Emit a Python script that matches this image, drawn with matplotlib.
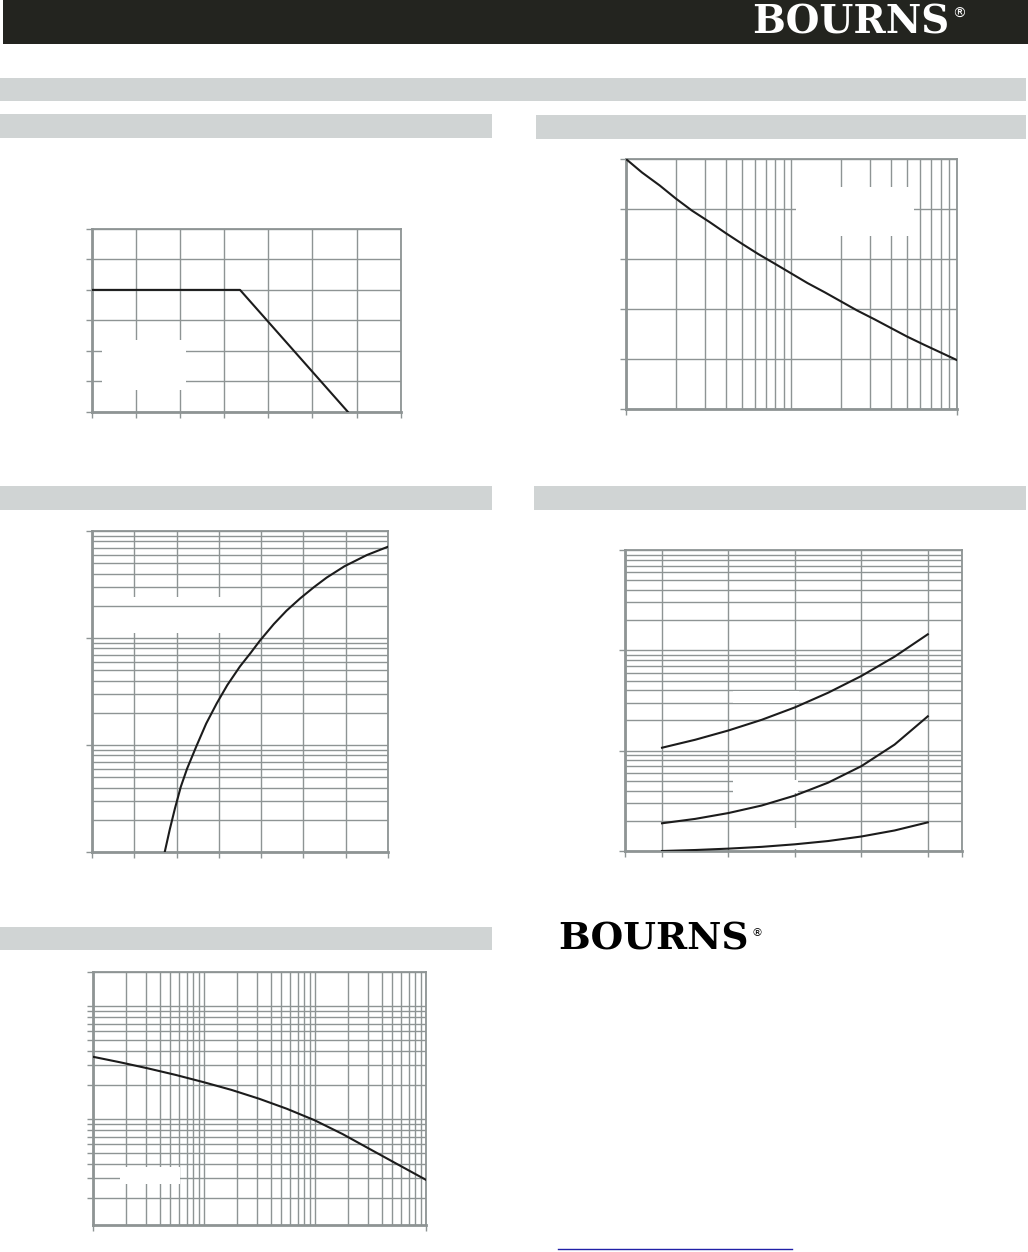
import numpy as np
import matplotlib
matplotlib.use("Agg")
import matplotlib.pyplot as plt
from matplotlib.patches import Rectangle
from matplotlib.lines import Line2D
from matplotlib.ticker import MultipleLocator, LogLocator, FixedLocator

W, H = 1028, 1252
GRID = "#8e9494"
INK = "#1c1c1c"
BAR = "#d0d4d4"

# --- chart 1: derating (linear / linear)
derate_x = [0, 84, 145]
derate_y = [80, 80, 0]

# --- chart 2: log x, linear y
c2_x = [1, 1.25, 1.6, 2, 2.5, 3.2, 4, 5, 6.3, 8, 10,
        12.5, 16, 20, 25, 32, 40, 50, 63, 80, 100]
c2_y = [50, 47.3, 44.7, 42.1, 39.7, 37.4, 35.2, 33.1, 31.0, 29.0, 27.1,
        25.2, 23.3, 21.5, 19.7, 17.9, 16.2, 14.5, 12.9, 11.3, 9.8]

# --- chart 3: linear x, log y
c3_x = [34.4, 36.8, 39.2, 42, 45, 49.4, 54, 59, 64, 70,
        75, 79.4, 86, 92, 98.4, 105, 111, 119.4, 130, 140]
c3_y = [1.0, 1.63, 2.54, 4.07, 6.03, 9.77, 15.85, 24.5, 36.3, 54.3,
        72.4, 94.4, 135, 180, 234, 299, 367, 468, 596, 713]

# --- chart 4: three curves, linear x, log y
c4_x = [1, 1.5, 2, 2.5, 3, 3.5, 4, 4.5, 5]
c4_a = [10.7, 12.85, 15.9, 20.3, 27.0, 37.8, 55.5, 86.5, 144.5]
c4_b = [1.89, 2.09, 2.39, 2.84, 3.57, 4.80, 7.01, 11.5, 22.0]
c4_c = [1.0, 1.023, 1.056, 1.10, 1.166, 1.257, 1.395, 1.602, 1.93]

# --- chart 5: log x, log y
c5_x = [1, 1.78, 3.16, 5.6, 10, 17.8, 31.6, 56, 100, 178, 316, 562, 1000]
c5_y = [3.58, 3.19, 2.82, 2.47, 2.13, 1.82, 1.52, 1.24, 0.98, 0.741, 0.543, 0.398, 0.292]

fig = plt.figure(figsize=(W / 100, H / 100), dpi=100)


def px_rect(x0, y0, x1, y1):
    return [x0 / W, 1 - y1 / H, (x1 - x0) / W, (y1 - y0) / H]


def fig_box(x0, y0, x1, y1, color):
    l, b, w, h = px_rect(x0, y0, x1, y1)
    fig.patches.append(Rectangle((l, b), w, h, transform=fig.transFigure,
                                 facecolor=color, lw=0, zorder=0))


def white_box(ax, x0, y0, x1, y1):
    l, b, w, h = px_rect(x0, y0, x1, y1)
    ax.add_artist(Rectangle((l, b), w, h, transform=fig.transFigure,
                            facecolor="white", lw=0, zorder=1))


def logo(x, base, size, color, reg_size, reg_rise):
    t = fig.text(x / W, 1 - base / H, "BOURNS", color=color, fontsize=size,
                 fontweight="bold", family="DejaVu Serif", ha="left", va="baseline")
    bb = t.get_window_extent(renderer=fig.canvas.get_renderer())
    fig.text((bb.x1 + 3) / W, 1 - (base - reg_rise) / H, "®", color=color,
             fontsize=reg_size, family="DejaVu Sans", ha="left", va="baseline")


def setup(ax, minor_len=0):
    for s in ax.spines.values():
        s.set_color(GRID)
    for side in ["left", "bottom"]:
        ax.spines[side].set_linewidth(2.0)
    for side in ["top", "right"]:
        ax.spines[side].set_linewidth(1.3)
    ax.tick_params(which="both", direction="out", color=GRID, width=1,
                   labelbottom=False, labelleft=False)
    ax.tick_params(which="major", length=4)
    ax.tick_params(which="minor", length=minor_len)
    ax.grid(True, which="both", color=GRID, lw=1.0)
    ax.set_axisbelow(True)


# page furniture
fig_box(3, 0, 1028, 44, "#23241f")
fig_box(0, 78, 1026, 101, BAR)
fig_box(0, 114, 492, 138, BAR)
fig_box(536, 115, 1026, 139, BAR)
fig_box(0, 486, 492, 510, BAR)
fig_box(534, 486, 1026, 510, BAR)
fig_box(0, 927, 492, 950, BAR)

logo(752, 33, 28, "white", 10, 15)
logo(558, 950, 27, "black", 8, 14)
fig.add_artist(Line2D([558 / W, 792 / W], [1 - 1249 / H] * 2,
                      color="#2020a8", lw=1))

# chart 1
ax1 = fig.add_axes(px_rect(91.7, 229, 400.7, 411.7))
setup(ax1)
ax1.plot(derate_x, derate_y, color=INK, lw=1.5, zorder=3)
ax1.set_xlim(0, 175)
ax1.set_ylim(0, 120)
ax1.xaxis.set_major_locator(MultipleLocator(25))
ax1.yaxis.set_major_locator(MultipleLocator(20))
white_box(ax1, 102, 340, 186, 390)

# chart 2
ax2 = fig.add_axes(px_rect(626, 159, 956.7, 409))
ax2.set_xscale("log")
setup(ax2)
ax2.plot(c2_x, c2_y, color=INK, lw=1.5, zorder=3)
ax2.set_xlim(1, 100)
ax2.set_ylim(0, 50)
ax2.xaxis.set_major_locator(FixedLocator([1, 100]))
ax2.xaxis.set_minor_locator(LogLocator(base=10, subs=np.arange(2, 11), numticks=50))
ax2.yaxis.set_major_locator(MultipleLocator(10))
white_box(ax2, 796, 187, 914, 236)

# chart 3
ax3 = fig.add_axes(px_rect(92, 531, 388, 852))
ax3.set_yscale("log")
setup(ax3)
ax3.yaxis.set_zorder(1.5)
ax3.plot(c3_x, c3_y, color=INK, lw=1.5, zorder=3)
ax3.set_xlim(0, 140)
ax3.set_ylim(1, 1000)
ax3.xaxis.set_major_locator(MultipleLocator(20))
ax3.yaxis.set_major_locator(LogLocator(base=10, numticks=10))
ax3.yaxis.set_minor_locator(LogLocator(base=10, subs=np.arange(2, 10), numticks=50))
white_box(ax3, 95, 597, 257, 633)

# chart 4
x4_lo, x4_hi = 0.443, 5.51
ax4 = fig.add_axes(px_rect(625, 550, 961.7, 851))
ax4.set_yscale("log")
setup(ax4)
for ys in (c4_a, c4_b, c4_c):
    ax4.plot(c4_x, ys, color=INK, lw=1.5, zorder=3)
ax4.set_xlim(x4_lo, x4_hi)
ax4.set_ylim(1, 1000)
ax4.xaxis.set_major_locator(FixedLocator([x4_lo, 1, 2, 3, 4, 5, x4_hi]))
ax4.yaxis.set_major_locator(LogLocator(base=10, numticks=10))
ax4.yaxis.set_minor_locator(LogLocator(base=10, subs=np.arange(2, 10), numticks=50))
white_box(ax4, 733, 691, 799, 703)
white_box(ax4, 733, 780, 798, 793)
white_box(ax4, 733, 828, 799, 849)

# chart 5
ax5 = fig.add_axes(px_rect(92.7, 972.3, 425.7, 1225))
ax5.set_xscale("log")
ax5.set_yscale("log")
setup(ax5)
ax5.tick_params(axis="y", which="minor", length=4)
ax5.plot(c5_x, c5_y, color=INK, lw=1.5, zorder=3)
ax5.set_xlim(1, 1000)
ax5.set_ylim(0.116, 20)
ax5.xaxis.set_major_locator(FixedLocator([1, 1000]))
ax5.xaxis.set_minor_locator(LogLocator(base=10, subs=np.arange(2, 11), numticks=50))
ax5.yaxis.set_major_locator(LogLocator(base=10, numticks=10))
ax5.yaxis.set_minor_locator(LogLocator(base=10, subs=np.arange(2, 10), numticks=50))
white_box(ax5, 120, 1167, 180, 1184)

fig.savefig("out.png", dpi=100)
